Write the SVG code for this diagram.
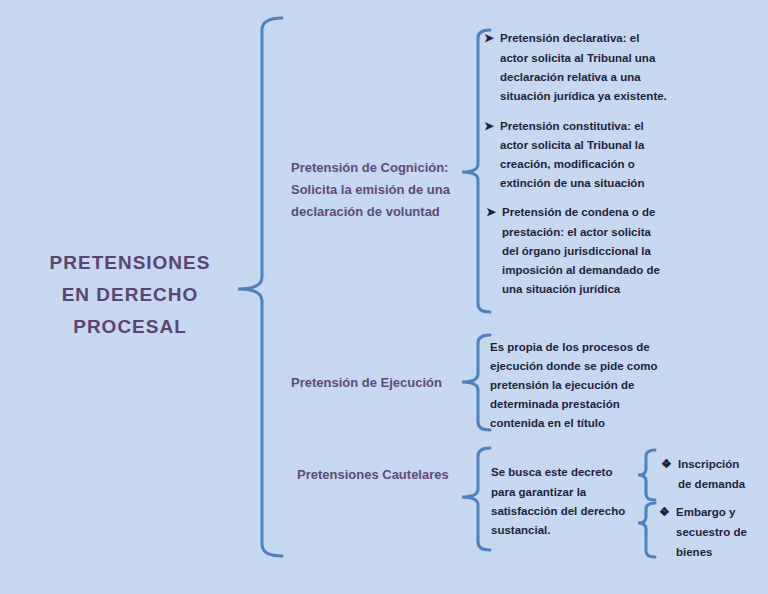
<svg xmlns="http://www.w3.org/2000/svg" width="768" height="594" viewBox="0 0 768 594">
<style>
.br{fill:none;stroke:#4f81bd;stroke-width:3;stroke-linecap:round}
.t{font-family:"Liberation Sans",Arial,sans-serif;font-weight:bold;font-size:11.5px;fill:#1f1f3a}
.p{font-family:"Liberation Sans",Arial,sans-serif;font-weight:bold;font-size:13px;fill:#60497a}
.h{font-family:"Liberation Sans",Arial,sans-serif;font-weight:bold;font-size:19px;fill:#5a4470;letter-spacing:1px}
</style>
<rect width="768" height="594" fill="#c6d9f1"/>
<g id="connectors">
<path class="br" d="M282,18 Q262,18 262,30 L262,277 Q262,289 238,289 Q262,289 262,301 L262,544 Q262,556 282,556"/>
<path class="br" d="M490,30 Q478,30 478,38 L478,164 Q478,172 462,172 Q478,172 478,180 L478,304 Q478,312 490,312"/>
<path class="br" d="M490,335 Q478,335 478,343 L478,374 Q478,382 462,382 Q478,382 478,390 L478,422 Q478,430 490,430"/>
<path class="br" d="M490,448 Q478,448 478,456 L478,489 Q478,497 462,497 Q478,497 478,505 L478,542 Q478,550 490,550"/>
<path class="br" d="M655,450 Q646,450 646,456 L646,469 Q646,475 638,475 Q646,475 646,481 L646,494 Q646,500 655,500"/>
<path class="br" d="M655,503 Q646,503 646,509 L646,517 Q646,523 638,523 Q646,523 646,529 L646,551 Q646,557 655,557"/>
</g>
<g id="root"><text class="h" text-anchor="middle"><tspan x="130" y="269">PRETENSIONES</tspan><tspan x="130" y="301">EN DERECHO</tspan><tspan x="130" y="333">PROCESAL</tspan></text></g>
<g id="cognicion"><text class="p"><tspan x="291" y="172">Pretensión de Cognición:</tspan><tspan x="291" y="194">Solicita la emisión de una</tspan><tspan x="291" y="216">declaración de voluntad</tspan></text></g>
<g id="ejecucion"><text class="p" x="291" y="387">Pretensión de Ejecución</text></g>
<g id="cautelares"><text class="p" x="297" y="479">Pretensiones Cautelares</text></g>
<g id="declarativa"><text class="t"><tspan x="484" y="42">➤</tspan><tspan x="500" y="42">Pretensión declarativa: el</tspan><tspan x="500" y="62">actor solicita al Tribunal una</tspan><tspan x="500" y="81">declaración relativa a una</tspan><tspan x="500" y="100">situación jurídica ya existente.</tspan></text></g>
<g id="constitutiva"><text class="t"><tspan x="484" y="130">➤</tspan><tspan x="500" y="130">Pretensión constitutiva: el</tspan><tspan x="500" y="149">actor solicita al Tribunal la</tspan><tspan x="500" y="168">creación, modificación o</tspan><tspan x="500" y="187">extinción de una situación</tspan></text></g>
<g id="condena"><text class="t"><tspan x="486" y="216">➤</tspan><tspan x="502" y="216">Pretensión de condena o de</tspan><tspan x="502" y="236">prestación: el actor solicita</tspan><tspan x="502" y="255">del órgano jurisdiccional la</tspan><tspan x="502" y="274">imposición al demandado de</tspan><tspan x="502" y="293">una situación jurídica</tspan></text></g>
<g id="ejec-desc"><text class="t"><tspan x="490" y="351">Es propia de los procesos de</tspan><tspan x="490" y="370">ejecución donde se pide como</tspan><tspan x="490" y="389">pretensión la ejecución de</tspan><tspan x="490" y="408">determinada prestación</tspan><tspan x="490" y="427">contenida en el título</tspan></text></g>
<g id="caut-desc"><text class="t"><tspan x="491" y="476">Se busca este decreto</tspan><tspan x="491" y="496">para garantizar la</tspan><tspan x="491" y="515">satisfacción del derecho</tspan><tspan x="491" y="534">sustancial.</tspan></text></g>
<g id="inscripcion"><text class="t"><tspan x="661" y="468">❖</tspan><tspan x="678" y="468">Inscripción</tspan><tspan x="678" y="488">de demanda</tspan></text></g>
<g id="embargo"><text class="t"><tspan x="659" y="516">❖</tspan><tspan x="676" y="516">Embargo y</tspan><tspan x="676" y="536">secuestro de</tspan><tspan x="676" y="556">bienes</tspan></text></g>
</svg>
